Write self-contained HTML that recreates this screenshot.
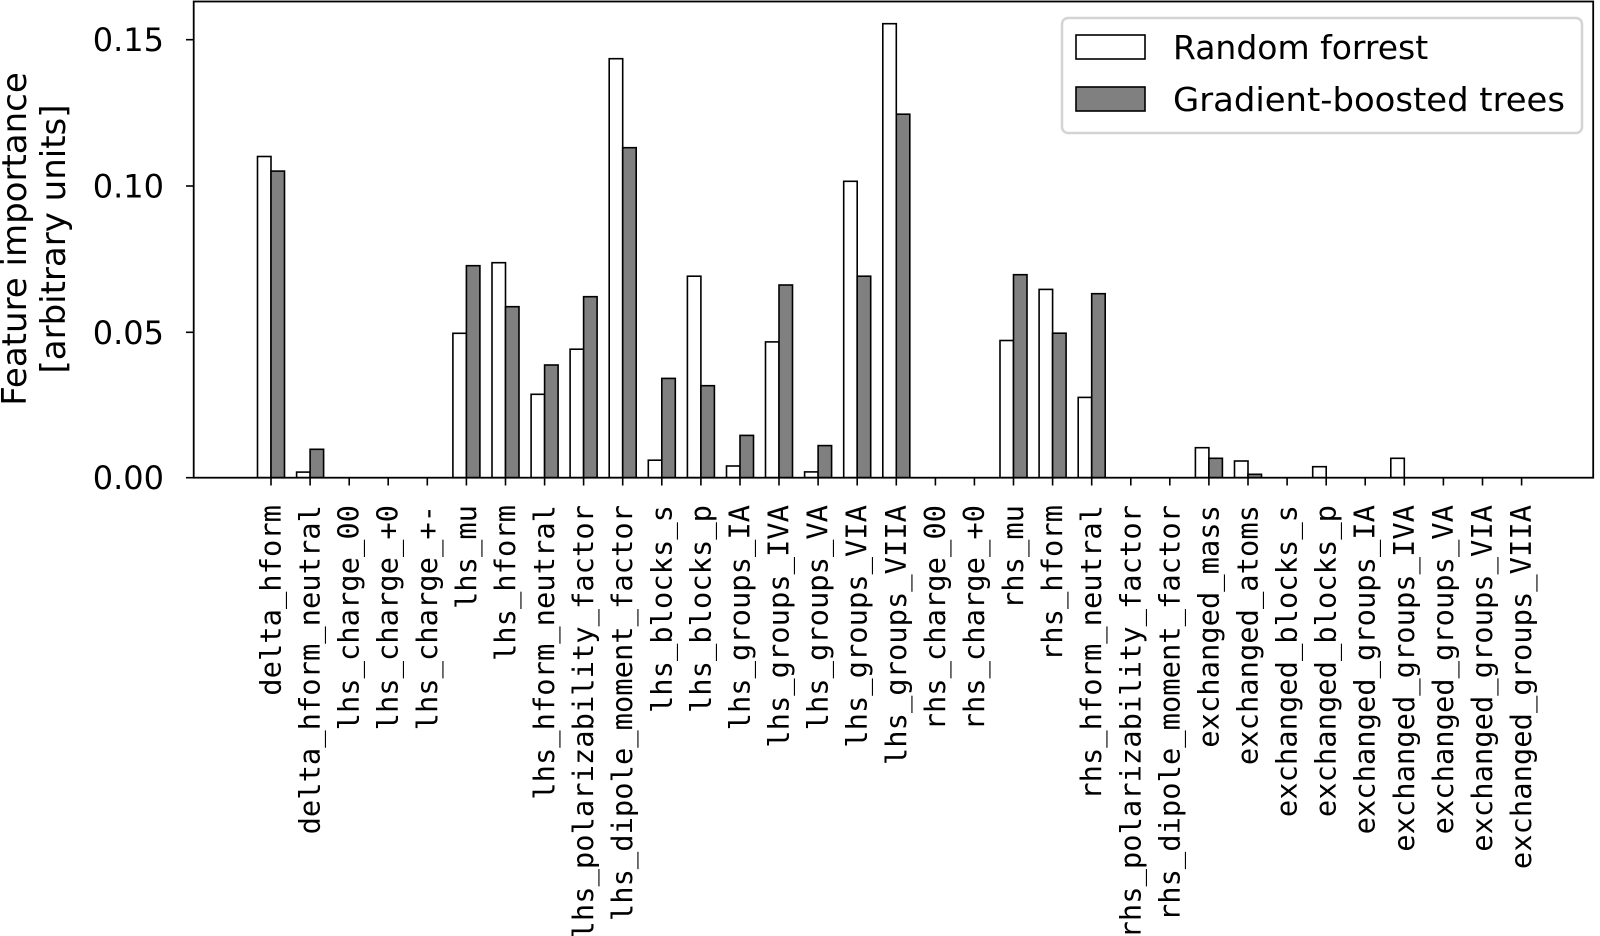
<!DOCTYPE html>
<html><head><meta charset="utf-8"><style>html,body{margin:0;padding:0;background:#fff}svg{display:block}</style></head>
<body>
<svg width="1600" height="936" xmlns="http://www.w3.org/2000/svg">
<rect width="1600" height="936" fill="#fff"/>
<g stroke="#000" stroke-width="1.6">
<rect x="257.5" y="156.5" width="13.5" height="321.2" fill="#fff"/><rect x="271" y="171.1" width="13.5" height="306.6" fill="#808080"/>
<rect x="296.6" y="472.1" width="13.5" height="5.6" fill="#fff"/><rect x="310.1" y="449.3" width="13.5" height="28.4" fill="#808080"/>
<rect x="452.9" y="333.3" width="13.5" height="144.4" fill="#fff"/><rect x="466.4" y="265.7" width="13.5" height="212" fill="#808080"/>
<rect x="492" y="262.7" width="13.5" height="215" fill="#fff"/><rect x="505.5" y="306.7" width="13.5" height="171" fill="#808080"/>
<rect x="531.1" y="394.3" width="13.5" height="83.4" fill="#fff"/><rect x="544.6" y="365" width="13.5" height="112.7" fill="#808080"/>
<rect x="570.1" y="349.2" width="13.5" height="128.5" fill="#fff"/><rect x="583.6" y="296.7" width="13.5" height="181" fill="#808080"/>
<rect x="609.2" y="58.7" width="13.5" height="419" fill="#fff"/><rect x="622.7" y="147.7" width="13.5" height="330" fill="#808080"/>
<rect x="648.3" y="460.2" width="13.5" height="17.5" fill="#fff"/><rect x="661.8" y="378.4" width="13.5" height="99.3" fill="#808080"/>
<rect x="687.4" y="276.2" width="13.5" height="201.5" fill="#fff"/><rect x="700.9" y="385.7" width="13.5" height="92" fill="#808080"/>
<rect x="726.5" y="466" width="13.5" height="11.7" fill="#fff"/><rect x="740" y="435.4" width="13.5" height="42.3" fill="#808080"/>
<rect x="765.5" y="341.9" width="13.5" height="135.8" fill="#fff"/><rect x="779" y="285" width="13.5" height="192.7" fill="#808080"/>
<rect x="804.6" y="471.9" width="13.5" height="5.8" fill="#fff"/><rect x="818.1" y="445.6" width="13.5" height="32.1" fill="#808080"/>
<rect x="843.7" y="181.3" width="13.5" height="296.4" fill="#fff"/><rect x="857.2" y="276.2" width="13.5" height="201.5" fill="#808080"/>
<rect x="882.8" y="23.7" width="13.5" height="454" fill="#fff"/><rect x="896.3" y="114.2" width="13.5" height="363.5" fill="#808080"/>
<rect x="1000" y="340.5" width="13.5" height="137.2" fill="#fff"/><rect x="1013.5" y="274.7" width="13.5" height="203" fill="#808080"/>
<rect x="1039.1" y="289.4" width="13.5" height="188.3" fill="#fff"/><rect x="1052.6" y="333.2" width="13.5" height="144.5" fill="#808080"/>
<rect x="1078.2" y="397.4" width="13.5" height="80.3" fill="#fff"/><rect x="1091.7" y="293.7" width="13.5" height="184" fill="#808080"/>
<rect x="1195.4" y="447.7" width="13.5" height="30" fill="#fff"/><rect x="1208.9" y="458.3" width="13.5" height="19.4" fill="#808080"/>
<rect x="1234.5" y="461" width="13.5" height="16.7" fill="#fff"/><rect x="1248" y="474.3" width="13.5" height="3.4" fill="#808080"/>
<rect x="1312.7" y="466.7" width="13.5" height="11" fill="#fff"/>
<rect x="1390.8" y="458.3" width="13.5" height="19.4" fill="#fff"/>
</g>
<rect x="193.7" y="1.5" width="1399.5" height="476.2" fill="none" stroke="#000" stroke-width="1.8"/>
<g stroke="#000" stroke-width="1.6">
<line x1="186" y1="477.7" x2="193.7" y2="477.7"/><line x1="186" y1="332.3" x2="193.7" y2="332.3"/>
<line x1="186" y1="186" x2="193.7" y2="186"/><line x1="186" y1="39.7" x2="193.7" y2="39.7"/>
</g>
<g font-family="DejaVu Sans, Liberation Sans, sans-serif" font-size="32" text-anchor="end" fill="#000">
<text x="164" y="489">0.00</text><text x="164" y="343.8">0.05</text>
<text x="164" y="197.5">0.10</text><text x="164" y="51.2">0.15</text>
</g>
<g font-family="DejaVu Sans, Liberation Sans, sans-serif" font-size="34" text-anchor="middle" fill="#000">
<text transform="translate(26,239) rotate(-90)">Feature importance</text>
<text transform="translate(65,239) rotate(-90)">[arbitrary units]</text>
</g>
<g stroke="#000" stroke-width="1.6">
<line x1="271" y1="477.7" x2="271" y2="485.5"/><line x1="310.1" y1="477.7" x2="310.1" y2="485.5"/><line x1="349.2" y1="477.7" x2="349.2" y2="485.5"/><line x1="388.2" y1="477.7" x2="388.2" y2="485.5"/><line x1="427.3" y1="477.7" x2="427.3" y2="485.5"/><line x1="466.4" y1="477.7" x2="466.4" y2="485.5"/><line x1="505.5" y1="477.7" x2="505.5" y2="485.5"/><line x1="544.6" y1="477.7" x2="544.6" y2="485.5"/><line x1="583.6" y1="477.7" x2="583.6" y2="485.5"/><line x1="622.7" y1="477.7" x2="622.7" y2="485.5"/><line x1="661.8" y1="477.7" x2="661.8" y2="485.5"/><line x1="700.9" y1="477.7" x2="700.9" y2="485.5"/><line x1="740" y1="477.7" x2="740" y2="485.5"/><line x1="779" y1="477.7" x2="779" y2="485.5"/><line x1="818.1" y1="477.7" x2="818.1" y2="485.5"/><line x1="857.2" y1="477.7" x2="857.2" y2="485.5"/><line x1="896.3" y1="477.7" x2="896.3" y2="485.5"/><line x1="935.4" y1="477.7" x2="935.4" y2="485.5"/><line x1="974.4" y1="477.7" x2="974.4" y2="485.5"/><line x1="1013.5" y1="477.7" x2="1013.5" y2="485.5"/><line x1="1052.6" y1="477.7" x2="1052.6" y2="485.5"/><line x1="1091.7" y1="477.7" x2="1091.7" y2="485.5"/><line x1="1130.8" y1="477.7" x2="1130.8" y2="485.5"/><line x1="1169.8" y1="477.7" x2="1169.8" y2="485.5"/><line x1="1208.9" y1="477.7" x2="1208.9" y2="485.5"/><line x1="1248" y1="477.7" x2="1248" y2="485.5"/><line x1="1287.1" y1="477.7" x2="1287.1" y2="485.5"/><line x1="1326.2" y1="477.7" x2="1326.2" y2="485.5"/><line x1="1365.2" y1="477.7" x2="1365.2" y2="485.5"/><line x1="1404.3" y1="477.7" x2="1404.3" y2="485.5"/><line x1="1443.4" y1="477.7" x2="1443.4" y2="485.5"/><line x1="1482.5" y1="477.7" x2="1482.5" y2="485.5"/><line x1="1521.6" y1="477.7" x2="1521.6" y2="485.5"/>
</g>
<g font-family="DejaVu Sans Mono, Liberation Mono, monospace" font-size="28.8" text-anchor="end" fill="#000">
<text transform="translate(280.5,505) rotate(-90)">delta_hform</text>
<text transform="translate(319.6,505) rotate(-90)">delta_hform_neutral</text>
<text transform="translate(358.7,505) rotate(-90)">lhs_charge_00</text>
<text transform="translate(397.7,505) rotate(-90)">lhs_charge_+0</text>
<text transform="translate(436.8,505) rotate(-90)">lhs_charge_+-</text>
<text transform="translate(475.9,505) rotate(-90)">lhs_mu</text>
<text transform="translate(515,505) rotate(-90)">lhs_hform</text>
<text transform="translate(554.1,505) rotate(-90)">lhs_hform_neutral</text>
<text transform="translate(593.1,505) rotate(-90)">lhs_polarizability_factor</text>
<text transform="translate(632.2,505) rotate(-90)">lhs_dipole_moment_factor</text>
<text transform="translate(671.3,505) rotate(-90)">lhs_blocks_s</text>
<text transform="translate(710.4,505) rotate(-90)">lhs_blocks_p</text>
<text transform="translate(749.5,505) rotate(-90)">lhs_groups_IA</text>
<text transform="translate(788.5,505) rotate(-90)">lhs_groups_IVA</text>
<text transform="translate(827.6,505) rotate(-90)">lhs_groups_VA</text>
<text transform="translate(866.7,505) rotate(-90)">lhs_groups_VIA</text>
<text transform="translate(905.8,505) rotate(-90)">lhs_groups_VIIA</text>
<text transform="translate(944.9,505) rotate(-90)">rhs_charge_00</text>
<text transform="translate(983.9,505) rotate(-90)">rhs_charge_+0</text>
<text transform="translate(1023,505) rotate(-90)">rhs_mu</text>
<text transform="translate(1062.1,505) rotate(-90)">rhs_hform</text>
<text transform="translate(1101.2,505) rotate(-90)">rhs_hform_neutral</text>
<text transform="translate(1140.3,505) rotate(-90)">rhs_polarizability_factor</text>
<text transform="translate(1179.3,505) rotate(-90)">rhs_dipole_moment_factor</text>
<text transform="translate(1218.4,505) rotate(-90)">exchanged_mass</text>
<text transform="translate(1257.5,505) rotate(-90)">exchanged_atoms</text>
<text transform="translate(1296.6,505) rotate(-90)">exchanged_blocks_s</text>
<text transform="translate(1335.7,505) rotate(-90)">exchanged_blocks_p</text>
<text transform="translate(1374.7,505) rotate(-90)">exchanged_groups_IA</text>
<text transform="translate(1413.8,505) rotate(-90)">exchanged_groups_IVA</text>
<text transform="translate(1452.9,505) rotate(-90)">exchanged_groups_VA</text>
<text transform="translate(1492,505) rotate(-90)">exchanged_groups_VIA</text>
<text transform="translate(1531.1,505) rotate(-90)">exchanged_groups_VIIA</text>
</g>
<rect x="1062" y="18" width="520" height="115" rx="6" fill="#fff" fill-opacity="0.8" stroke="#d4d4d4" stroke-width="2.5"/>
<rect x="1076" y="35" width="69" height="24" fill="#fff" stroke="#000" stroke-width="1.6"/>
<rect x="1076" y="87" width="69" height="24" fill="#808080" stroke="#000" stroke-width="1.6"/>
<g font-family="DejaVu Sans, Liberation Sans, sans-serif" font-size="33" fill="#000">
<text x="1173" y="59">Random forrest</text>
<text x="1173" y="111" textLength="392" lengthAdjust="spacingAndGlyphs">Gradient-boosted trees</text>
</g>
</svg>
</body></html>
